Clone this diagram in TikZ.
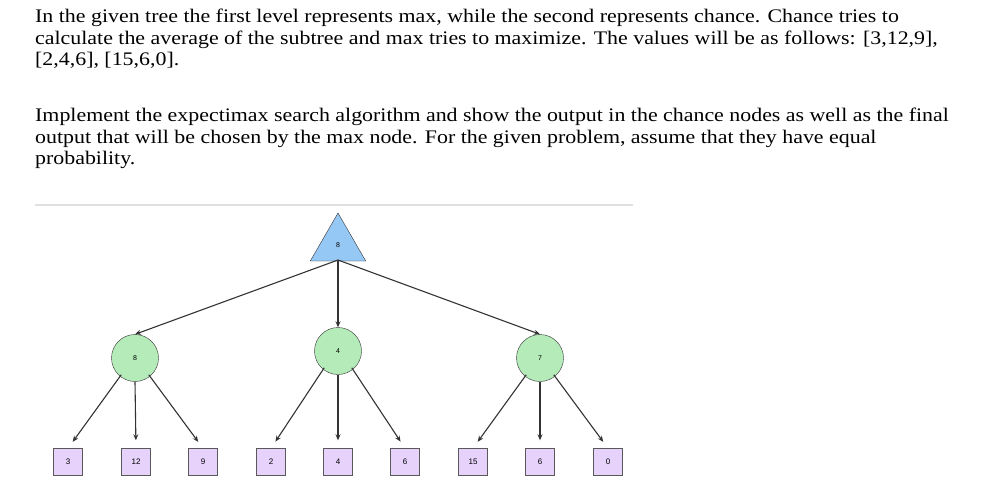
\documentclass[tikz,border=0pt]{standalone}
\usepackage{fontspec}
\setmainfont{Liberation Serif}[FakeStretch=1.14]
\newfontfamily\nodefont{Liberation Sans}
\usetikzlibrary{shapes.geometric,arrows.meta}
\definecolor{maxfill}{RGB}{150,200,245}
\definecolor{chfill}{RGB}{180,235,185}
\definecolor{leaffill}{RGB}{230,210,250}
\begin{document}
\begin{tikzpicture}[x=1pt,y=-1pt,
  txt/.style={anchor=north west,inner sep=0pt,align=left,font=\fontsize{19.2}{21.5}\selectfont},
  maxn/.style={regular polygon,regular polygon sides=3,draw=black!80,fill=maxfill,minimum size=64pt,inner sep=0pt,font=\nodefont\fontsize{7}{8}\selectfont},
  chn/.style={circle,draw=black!80,fill=chfill,minimum size=47pt,inner sep=0pt,font=\nodefont\fontsize{7}{8}\selectfont},
  leaf/.style={rectangle,draw=black!65,fill=leaffill,minimum width=29pt,minimum height=27pt,inner sep=0pt,font=\nodefont\fontsize{8}{9}\selectfont},
  edge/.style={draw=black!80,line width=1.1pt,-{Stealth[length=6pt,width=5pt]}}]
\useasboundingbox (0,0) rectangle (981,501);
\node[txt] (p1) at (35,9) {In the given tree the first level represents max, while the second represents chance. Chance tries to\\calculate the average of the subtree and max tries to maximize. The values will be as follows: [3,12,9],\\{}[2,4,6], [15,6,0].};
\node[txt] (p2) at (35,108) {Implement the expectimax search algorithm and show the output in the chance nodes as well as the final\\output that will be chosen by the max node. For the given problem, assume that they have equal\\probability.};
\draw[black!12,line width=1.2pt] (35,205) -- (633,205);
\node[maxn] (m) at (338,245) {8};
\node[chn] (c1) at (135,358) {8};
\node[chn] (c2) at (338,351) {4};
\node[chn] (c3) at (540,358) {7};
\foreach \i/\x/\v in {1/68/3,2/136/12,3/203/9,4/271/2,5/338/4,6/405/6,7/473/15,8/540/6,9/608/0}
  \node[leaf] (l\i) at (\x,462) {\v};
\coordinate (mb) at (338,260);
\draw[edge] (mb) -- (c1.north);
\draw[edge] (mb) -- (c2.north);
\draw[edge] (mb) -- (c3.north);
\foreach \c/\a/\b/\d in {c1/l1/l2/l3,c2/l4/l5/l6,c3/l7/l8/l9}{
  \draw[edge,shorten >=8pt] (\c.south west) ++(3,0) -- (\a.north);
  \draw[edge,shorten >=8pt] (\c.south) -- (\b.north);
  \draw[edge,shorten >=8pt] (\c.south east) ++(-3,0) -- (\d.north);
}
\end{tikzpicture}
\end{document}
